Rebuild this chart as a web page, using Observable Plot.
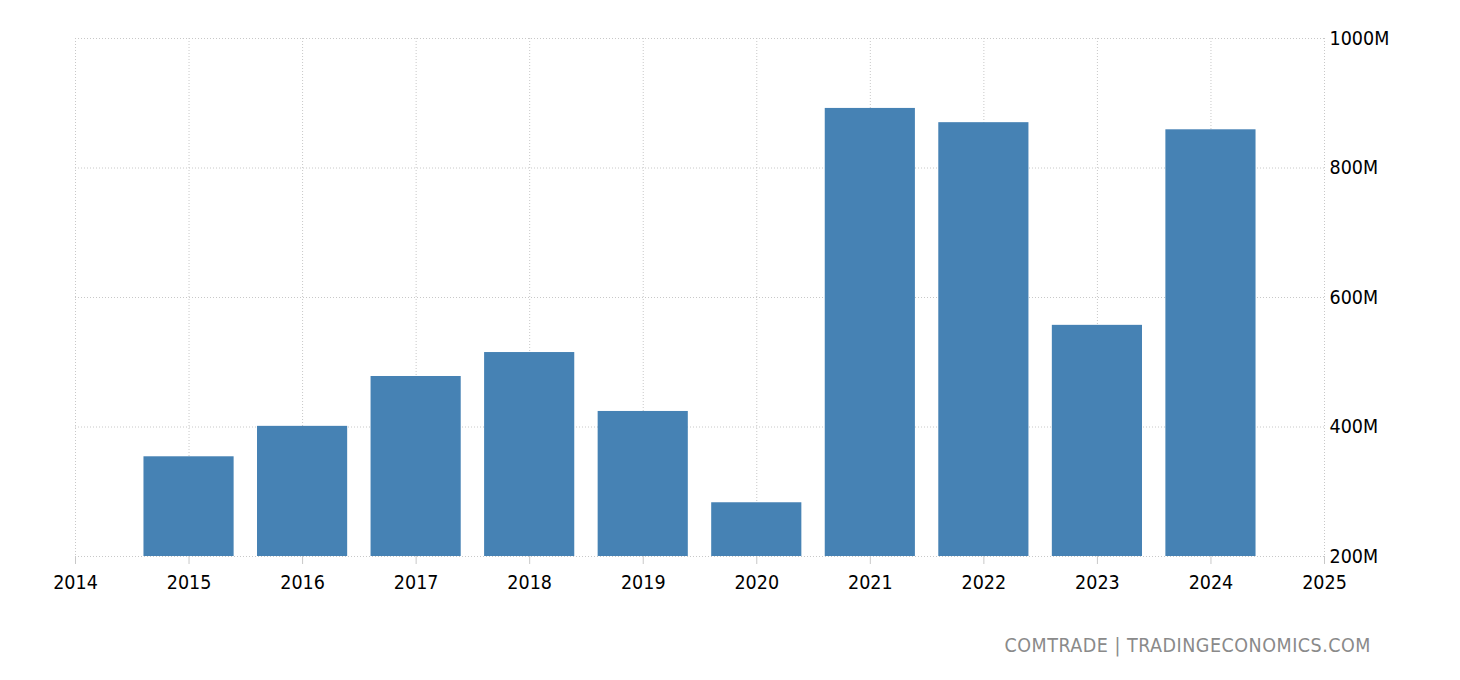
<!DOCTYPE html>
<html>
<head>
<meta charset="utf-8">
<script src="https://cdn.jsdelivr.net/npm/d3@7"></script>
<script src="https://cdn.jsdelivr.net/npm/@observablehq/plot@0.6"></script>
<style>
  html, body { margin: 0; padding: 0; background: #fff; }
  #chart { width: 1460px; }
  #caption {
    width: 1460px; box-sizing: border-box; text-align: right; padding-right: 89px;
    font-family: "DejaVu Sans Condensed", "DejaVu Sans", sans-serif; font-size: 19.5px;
    color: #8a8a8a; letter-spacing: 0.5px; margin-top: 34px; line-height: 24px;
  }
</style>
</head>
<body>
<div id="chart"></div>
<div id="caption">COMTRADE | TRADINGECONOMICS.COM</div>
<script>
const years = [2015, 2016, 2017, 2018, 2019, 2020, 2021, 2022, 2023, 2024];
const values = [354, 401, 478, 515, 424, 283, 892, 870, 557, 859]; // millions
const xTicks = [2014, 2015, 2016, 2017, 2018, 2019, 2020, 2021, 2022, 2023, 2024, 2025];
const yTicks = [200, 400, 600, 800, 1000];
const yTickLabels = ["200M", "400M", "600M", "800M", "1000M"];

const data = years.map((y, i) => ({year: y, value: values[i]}));
const halfWidth = 0.397;

const chart = Plot.plot({
  width: 1460,
  height: 600,
  marginLeft: 75,
  marginRight: 136,
  marginTop: 38,
  marginBottom: 44,
  style: {fontFamily: '"DejaVu Sans Condensed", "DejaVu Sans", sans-serif', fontSize: "19.5px", color: "#000", background: "#fff"},
  x: {domain: [2014, 2025]},
  y: {domain: [200, 1000]},
  marks: [
    Plot.ruleX(xTicks, {stroke: "#c8c8c8", strokeDasharray: "1,2"}),
    Plot.ruleY(yTicks, {stroke: "#c8c8c8", strokeDasharray: "1,2"}),
    Plot.rect(data, {x1: d => d.year - halfWidth, x2: d => d.year + halfWidth, y1: 200, y2: "value", fill: "#4682b4"}),
    Plot.axisX({ticks: xTicks, tickFormat: d => String(d), tickSize: 8, tickPadding: 11, stroke: "#c8c8c8", label: null}),
    Plot.axisY({anchor: "right", ticks: yTicks, tickFormat: d => yTickLabels[yTicks.indexOf(d)], tickSize: 0, tickPadding: 5, textAnchor: "start", label: null})
  ]
});
document.getElementById("chart").appendChild(chart);
</script>
</body>
</html>
